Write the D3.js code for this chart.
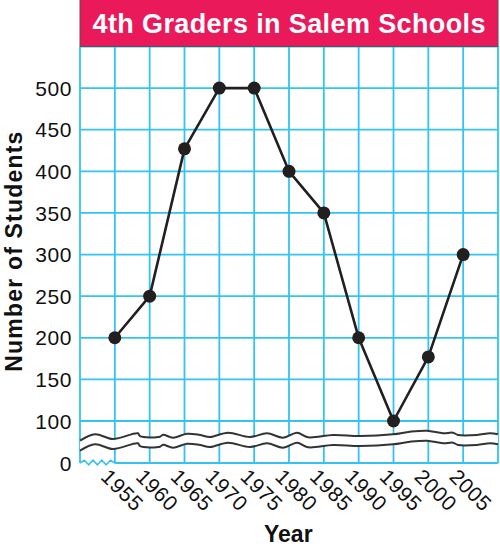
<!DOCTYPE html>
<html><head><meta charset="utf-8">
<script src="https://cdn.jsdelivr.net/npm/d3@7/dist/d3.min.js"></script>
<style>
html,body{margin:0;padding:0;background:#fff;}
svg{display:block;}
text{font-family:"Liberation Sans",Arial,Helvetica,sans-serif;}
</style></head>
<body>
<svg id="chart" width="500" height="546"></svg>
<script>
// ---- data ----
const years = [1955,1960,1965,1970,1975,1980,1985,1990,1995,2000,2005];
const students = [200,250,427,500,500,400,350,200,100,177,300];
const yTicks = [0,100,150,200,250,300,350,400,450,500];
const xTicks = [1955,1960,1965,1970,1975,1980,1985,1990,1995,2000,2005];
const gridYears = d3.range(1950, 2011, 5);
const gridValues = [100,150,200,250,300,350,400,450,500,550];
const title = "4th Graders in Salem Schools";
const xTitle = "Year";
const yTitle = "Number of Students";

// ---- layout ----
(function () {
const svg = d3.select("#chart");
const L = 80, R = 498, T = 46.5, B = 463;
const blue = "#33c3f0", ink = "#231f20", red = "#e9195a";

const x = d3.scaleLinear().domain([1950, 2010]).range([L, R]);
const y = d3.scaleLinear().domain([0, 100, 550]).range([B, 421, T]);

// grid
const g = svg.append("g");
g.selectAll("line.v").data(gridYears).enter().append("line")
  .attr("x1", d => x(d)).attr("x2", d => x(d))
  .attr("y1", T).attr("y2", B)
  .attr("stroke", blue).attr("stroke-width", 1.8);
g.selectAll("line.h").data(gridValues).enter().append("line")
  .attr("x1", L).attr("x2", R)
  .attr("y1", d => y(d)).attr("y2", d => y(d))
  .attr("stroke", blue).attr("stroke-width", 1.8);

// bottom edge: zigzag in first column, straight after
const zig = [];
const zx0 = x(1950), zx1 = x(1955);
const nTeeth = 4, tooth = (zx1 - zx0) / nTeeth;
zig.push([zx0, B]);
for (let i = 0; i < nTeeth; i++) {
  zig.push([zx0 + tooth * (i + 0.5), B - 2.8]);
  zig.push([zx0 + tooth * (i + 1), B + 1.8]);
}
zig[zig.length - 1] = [zx1, B];
g.append("path").attr("d", d3.line()(zig)).attr("fill", "none")
  .attr("stroke", blue).attr("stroke-width", 1.6);
g.append("line").attr("x1", zx1).attr("x2", R).attr("y1", B).attr("y2", B)
  .attr("stroke", blue).attr("stroke-width", 1.8);

// axis break (wavy double line)
const wave = [[0,4.7],[15,-1.7],[33,3],[58,-2.7],[60,0.2],[80,0.7],[83,-1.3],[93,1.7],[107,-2.3],[120,-1],[130,1],[148,-3.3],[170,1],[187,-2.7],[203,1.7],[217,-3.3],[228,1.3],[253,-1],[280,0],[313,-1.7],[330,-4.3],[347,-5.3],[363,-2.7],[373,-3.3],[378,-1],[397,-1],[410,-2.7],[418,-1.7]];
const breakY = 436, gap = 10;
const upper = wave.map(p => [L + p[0], breakY + p[1]]);
const lower = wave.map(p => [L + p[0], breakY + gap + p[1]]);
const smooth = d3.line().curve(d3.curveCatmullRom);
svg.append("path")
  .attr("d", smooth(upper) + "L" + smooth(lower.slice().reverse()).slice(1) + "Z")
  .attr("fill", "#fff").attr("stroke", "none");
[upper, lower].forEach(pts => {
  svg.append("path").attr("d", smooth(pts)).attr("fill", "none")
    .attr("stroke", "#333").attr("stroke-width", 2);
});

// data line and dots
const line = d3.line().x((d, i) => x(years[i])).y(d => y(d));
svg.append("path").datum(students).attr("d", line)
  .attr("fill", "none").attr("stroke", ink).attr("stroke-width", 2.6)
  .attr("stroke-linejoin", "round");
svg.selectAll("circle").data(students).enter().append("circle")
  .attr("cx", (d, i) => x(years[i])).attr("cy", d => y(d)).attr("r", 6.5)
  .attr("fill", ink);

// title box
svg.append("rect").attr("x", L).attr("y", -1).attr("width", R - L).attr("height", T + 1)
  .attr("fill", red).attr("stroke", "#555").attr("stroke-width", 1);
svg.append("text").attr("x", (L + R) / 2).attr("y", 33.3)
  .attr("text-anchor", "middle").attr("fill", "#fff")
  .attr("font-weight", "bold").attr("font-size", 27)
  .attr("textLength", 393).attr("lengthAdjust", "spacing")
  .text(title);

// y tick labels
svg.selectAll("text.yt").data(yTicks).enter().append("text")
  .attr("x", 72).attr("y", d => y(d)).attr("dy", "0.36em")
  .attr("text-anchor", "end").attr("font-size", 21).attr("fill", "#111")
  .attr("letter-spacing", 0.6)
  .text(d => d);

// x tick labels
svg.selectAll("text.xt").data(xTicks).enter().append("text")
  .attr("transform", d => `translate(${x(d) - 15},${478}) rotate(45)`)
  .attr("text-anchor", "start").attr("font-size", 21).attr("fill", "#111")
  .attr("letter-spacing", 0.6)
  .text(d => d);

// axis titles
svg.append("text").attr("x", 288.3).attr("y", 542)
  .attr("text-anchor", "middle").attr("font-weight", "bold").attr("font-size", 23)
  .attr("fill", "#111").text(xTitle);
svg.append("text").attr("transform", "translate(21.5,251.7) rotate(-90)")
  .attr("text-anchor", "middle").attr("font-weight", "bold").attr("font-size", 23)
  .attr("textLength", 240).attr("lengthAdjust", "spacing")
  .attr("fill", "#111").text(yTitle);
})();
</script>
</body></html>
